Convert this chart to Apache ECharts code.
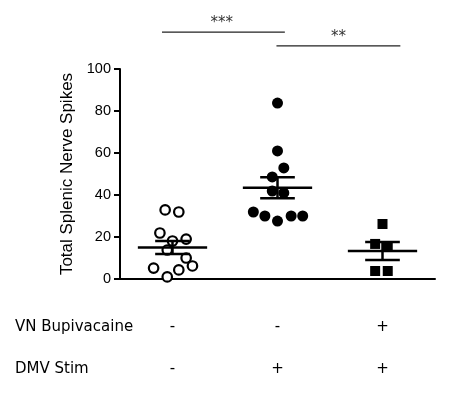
<!DOCTYPE html>
<html><head><meta charset="utf-8">
<script src="https://cdn.jsdelivr.net/npm/echarts@6/dist/echarts.min.js"></script>
<style>html,body{margin:0;padding:0;background:#fff}#c{width:474px;height:393px}</style>
</head><body><div id="c"></div>
<script>
// ---- data ----
const categories = ['Control', 'DMV Stim', 'DMV Stim + VN Bupivacaine'];
const vnBupivacaine = ['-', '-', '+'];
const dmvStim = ['-', '+', '+'];
const yTicks = [0, 20, 40, 60, 80, 100];

const group1Values = [32.9, 31.9, 21.9, 18.1, 19.0, 13.8, 10.0, 6.2, 5.2, 4.3, 1.0];
const group1Jitter = [-0.07, 0.06, -0.12, 0.0, 0.13, -0.05, 0.13, 0.19, -0.18, 0.06, -0.05];
const group2Values = [83.8, 61.0, 52.9, 48.6, 41.9, 41.0, 31.9, 30.0, 27.6, 30.0, 30.0];
const group2Jitter = [0.0, 0.0, 0.06, -0.05, -0.05, 0.06, -0.23, -0.12, 0.0, 0.13, 0.24];
const group3Values = [26.2, 16.7, 15.7, 3.8, 3.8];
const group3Jitter = [0.0, -0.07, 0.05, -0.07, 0.05];

const groupMeans = [15.0, 43.4, 13.3];
const groupSEM = [3.1, 5.0, 4.3];

const sigFrom = [0, 1];
const sigTo = [1, 2];
const sigLabels = ['***', '**'];

// ---- chart ----
const chart = echarts.init(document.getElementById('c'));
function pts(g, vals, jit) { return vals.map((v, i) => [g + jit[i], v]); }

const font = 'Liberation Sans, Arial, sans-serif';
const tahoma = 'DejaVu Sans, Verdana, sans-serif';

chart.setOption({
  animation: false,
  grid: { left: 120, right: 39, top: 69, bottom: 114 },
  xAxis: [{
    type: 'category', data: categories, boundaryGap: true,
    axisLine: { lineStyle: { color: '#000', width: 2 } },
    axisTick: { alignWithLabel: true, length: 5, lineStyle: { color: '#000', width: 2 } },
    axisLabel: {
      margin: 27, lineHeight: 42, color: '#000', fontFamily: tahoma, fontSize: 15,
      formatter: (v, i) => vnBupivacaine[i] + '\n' + dmvStim[i]
    }
  }, {
    type: 'value', min: -0.5, max: 2.5, show: false
  }],
  yAxis: {
    type: 'value', min: 0, max: 100, interval: 20,
    name: 'Total Splenic Nerve Spikes', nameLocation: 'middle', nameGap: 37,
    nameTextStyle: { fontFamily: font, fontSize: 17, color: '#000' },
    axisLine: { show: true, onZero: false, lineStyle: { color: '#000', width: 2 } },
    axisTick: { show: true, length: 6, lineStyle: { color: '#000', width: 2 } },
    axisLabel: { margin: 9, color: '#000', fontFamily: font, fontSize: 14.5,
      formatter: v => yTicks.includes(v) ? String(v) : '' },
    splitLine: { show: false }
  },
  series: [
    { type: 'scatter', xAxisIndex: 1, data: pts(0, group1Values, group1Jitter),
      symbol: 'circle', symbolSize: 9.5, itemStyle: { color: '#fff', borderColor: '#000', borderWidth: 2.2, opacity: 1 } },
    { type: 'scatter', xAxisIndex: 1, data: pts(1, group2Values, group2Jitter),
      symbol: 'circle', symbolSize: 11, itemStyle: { color: '#000', opacity: 1 } },
    { type: 'scatter', xAxisIndex: 1, data: pts(2, group3Values, group3Jitter),
      symbol: 'rect', symbolSize: 10, itemStyle: { color: '#000', opacity: 1 } },
    { type: 'custom', xAxisIndex: 1, z: 5,
      data: groupMeans.map((m, i) => [i, m, groupSEM[i]]),
      renderItem: (params, api) => {
        const x = api.value(0), m = api.value(1), s = api.value(2);
        const st = { stroke: '#000', lineWidth: 2.5 };
        const L = (x1, y1, x2, y2) => {
          const a = api.coord([x1, y1]), b = api.coord([x2, y2]);
          return { type: 'line', shape: { x1: a[0], y1: a[1], x2: b[0], y2: b[1] }, style: st };
        };
        return { type: 'group', children: [
          L(x - 0.33, m, x + 0.33, m),
          L(x - 0.165, m + s, x + 0.165, m + s),
          L(x - 0.165, m - s, x + 0.165, m - s),
          L(x, m - s, x, m + s)
        ] };
      }
    }
  ]
});

// significance brackets and row titles, positioned through the axes
function px(x, y) { return chart.convertToPixel({ xAxisIndex: 1, yAxisIndex: 0 }, [x, y]); }
const sigY = [117.6, 111.0];
const sigStart = [-0.1, 0.99];
const sigEnd = [1.07, 2.17];
const g = [];
sigLabels.forEach((lab, i) => {
  const a = px(sigStart[i], sigY[i]), b = px(sigEnd[i], sigY[i]);
  g.push({ type: 'line', shape: { x1: a[0], y1: a[1], x2: b[0], y2: b[1] }, style: { stroke: '#222', lineWidth: 1.2 } });
  const c = px((sigFrom[i] + sigTo[i]) / 2 + (i === 0 ? -0.03 : 0.08), sigY[i]);
  g.push({ type: 'text', x: c[0], y: c[1] - 1, style: { text: lab, fontFamily: tahoma, fontSize: 15, fill: '#333', align: 'center', verticalAlign: 'bottom' } });
});
const base = px(-0.5, 0);
g.push({ type: 'text', x: 15, y: base[1] + 48, style: { text: 'VN Bupivacaine', fontFamily: tahoma, fontSize: 15, fill: '#000', verticalAlign: 'middle' } });
g.push({ type: 'text', x: 15, y: base[1] + 90, style: { text: 'DMV Stim', fontFamily: tahoma, fontSize: 15, fill: '#000', verticalAlign: 'middle' } });
chart.setOption({ graphic: g });
</script></body></html>
